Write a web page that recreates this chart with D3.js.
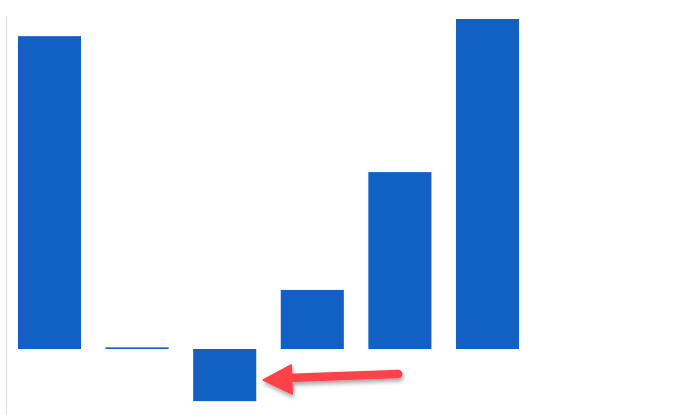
<!DOCTYPE html>
<html>
<head>
<meta charset="utf-8">
<script src="https://cdn.jsdelivr.net/npm/d3@7"></script>
<style>
  html, body { margin: 0; padding: 0; background: #fff; }
  svg { display: block; }
</style>
</head>
<body>
<svg id="chart"></svg>
<script>
// bar data
const categories = ['A', 'B', 'C', 'D', 'E', 'F'];
const values = [94.8, 0.5, -15.8, 17.9, 53.6, 100];

const width = 692;
const height = 415;

const svg = d3.select('#chart')
  .attr('width', width)
  .attr('height', height);

// Scales
const x = d3.scaleBand()
  .domain(categories)
  .range([5.7, 531.3])
  .paddingInner(0.28)
  .paddingOuter(0.14);

const y = d3.scaleLinear()
  .domain([0, 100])
  .range([349, 19]);

// light left axis line
svg.append('line')
  .attr('x1', 6.5)
  .attr('x2', 6.5)
  .attr('y1', 16)
  .attr('y2', height)
  .attr('stroke', '#dddddd')
  .attr('stroke-width', 1);

// Bars
svg.selectAll('rect.bar')
  .data(values)
  .enter()
  .append('rect')
  .attr('class', 'bar')
  .attr('x', (d, i) => x(categories[i]))
  .attr('width', x.bandwidth())
  .attr('y', d => Math.min(y(d), y(0)))
  .attr('height', d => Math.abs(y(d) - y(0)))
  .attr('fill', '#1160c3');

// Red arrow pointing at the negative bar
const defs = svg.append('defs');
const shadow = defs.append('filter')
  .attr('id', 'shadow')
  .attr('x', '-20%').attr('y', '-50%')
  .attr('width', '140%').attr('height', '200%');
shadow.append('feDropShadow')
  .attr('dx', 1)
  .attr('dy', 3)
  .attr('stdDeviation', 2)
  .attr('flood-color', '#000')
  .attr('flood-opacity', 0.35);

const neg = values.findIndex(v => v < 0);
const tipX = x(categories[neg]) + x.bandwidth() + 7;
const tipY = 380;

const arrow = svg.append('g').attr('filter', 'url(#shadow)');

arrow.append('line')
  .attr('x1', tipX + 135)
  .attr('y1', tipY - 6)
  .attr('x2', tipX + 24)
  .attr('y2', tipY - 2)
  .attr('stroke', '#fe4248')
  .attr('stroke-width', 8.5)
  .attr('stroke-linecap', 'round');

arrow.append('path')
  .attr('d', `M${tipX},${tipY} L${tipX + 28},${tipY - 15} L${tipX + 29},${tipY + 14} Z`)
  .attr('fill', '#fe4248')
  .attr('stroke', '#fe4248')
  .attr('stroke-width', 1.5)
  .attr('stroke-linejoin', 'round');
</script>
</body>
</html>
